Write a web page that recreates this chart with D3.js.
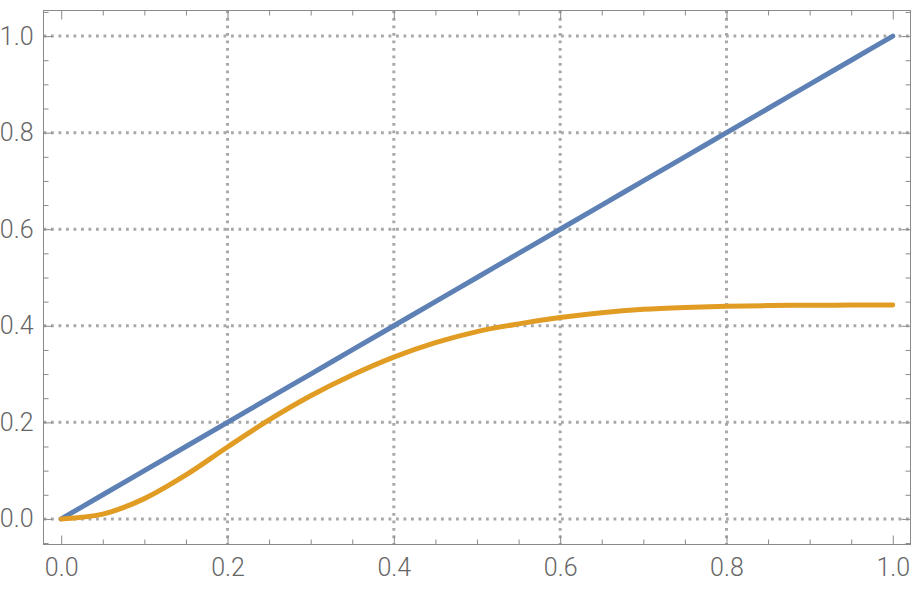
<!DOCTYPE html>
<html lang="en">
<head>
  <meta charset="UTF-8">
  <title>Plot</title>
  <script src="https://d3js.org/d3.v7.min.js"></script>
  <style>
    body { margin: 0; background: #fff; }
    svg { display: block; }
    .tick text { font-family: Roboto, sans-serif; font-size: 25px; fill: #666; font-weight: 300; }
    .axis path { display: none; }
    .axis line { stroke: #8a8a8a; stroke-width: 1; }
    .grid line { stroke: #a8a8a8; stroke-width: 3; stroke-dasharray: 2.8,4.7; }
  </style>
</head>
<body>
  <svg id="chart" width="923" height="589"></svg>

  <script>
    // data
    const xValues = [0, 0.05, 0.1, 0.15, 0.2, 0.25, 0.3, 0.35, 0.4, 0.45, 0.5,
                     0.55, 0.6, 0.65, 0.7, 0.75, 0.8, 0.85, 0.9, 0.95, 1.0];
    const blueValues = [0, 0.05, 0.1, 0.15, 0.2, 0.25, 0.3, 0.35, 0.4, 0.45, 0.5,
                        0.55, 0.6, 0.65, 0.7, 0.75, 0.8, 0.85, 0.9, 0.95, 1.0];
    const orangeValues = [0, 0.010, 0.042, 0.091, 0.149, 0.205, 0.255, 0.298, 0.335, 0.365, 0.388,
                          0.404, 0.417, 0.427, 0.434, 0.438, 0.4405, 0.4418, 0.4425, 0.4429, 0.4431];
    const majorTicks = [0, 0.2, 0.4, 0.6, 0.8, 1.0];
    const minorTicks = d3.range(-0.05, 1.06, 0.05).map(v => +v.toFixed(2));
    const xGrid = [0.2, 0.4, 0.6, 0.8];
    const yGrid = [0, 0.2, 0.4, 0.6, 0.8, 1.0];

    const frameL = 43.5, frameR = 910.5, frameT = 10.5, frameB = 544.5;

    const svg = d3.select("#chart");
    const x = d3.scaleLinear().domain([-0.0213, 1.0213]).range([frameL, frameR]);
    const y = d3.scaleLinear().domain([-0.053, 1.053]).range([frameB, frameT]);

    // grid
    svg.append("g").attr("class", "grid")
      .selectAll("line").data(xGrid).enter().append("line")
      .attr("x1", d => x(d)).attr("x2", d => x(d))
      .attr("y1", frameT).attr("y2", frameB);
    svg.append("g").attr("class", "grid")
      .selectAll("line").data(yGrid).enter().append("line")
      .attr("x1", frameL).attr("x2", frameR)
      .attr("y1", d => y(d)).attr("y2", d => y(d));

    // frame
    svg.append("rect")
      .attr("x", frameL).attr("y", frameT)
      .attr("width", frameR - frameL).attr("height", frameB - frameT)
      .attr("fill", "none").attr("stroke", "#8a8a8a").attr("stroke-width", 1);

    const xMinor = minorTicks.filter(v => v >= 0 && v <= 1 && !majorTicks.includes(v));
    const yMinor = minorTicks.filter(v => !majorTicks.includes(v));
    const fmt = d3.format(".1f");

    // bottom / top
    svg.append("g").attr("class", "axis").attr("transform", `translate(0,${frameB})`)
      .call(d3.axisBottom(x).tickValues(majorTicks).tickFormat(fmt).tickSize(-9).tickPadding(14));
    svg.append("g").attr("class", "axis").attr("transform", `translate(0,${frameB})`)
      .call(d3.axisBottom(x).tickValues(xMinor).tickFormat("").tickSize(-5));
    svg.append("g").attr("class", "axis").attr("transform", `translate(0,${frameT})`)
      .call(d3.axisTop(x).tickValues(majorTicks).tickFormat("").tickSize(-9));
    svg.append("g").attr("class", "axis").attr("transform", `translate(0,${frameT})`)
      .call(d3.axisTop(x).tickValues(xMinor).tickFormat("").tickSize(-5));

    // left / right
    svg.append("g").attr("class", "axis").attr("transform", `translate(${frameL},0)`)
      .call(d3.axisLeft(y).tickValues(majorTicks).tickFormat(fmt).tickSize(-9).tickPadding(10));
    svg.append("g").attr("class", "axis").attr("transform", `translate(${frameL},0)`)
      .call(d3.axisLeft(y).tickValues(yMinor).tickFormat("").tickSize(-5));
    svg.append("g").attr("class", "axis").attr("transform", `translate(${frameR},0)`)
      .call(d3.axisRight(y).tickValues(majorTicks).tickFormat("").tickSize(-9));
    svg.append("g").attr("class", "axis").attr("transform", `translate(${frameR},0)`)
      .call(d3.axisRight(y).tickValues(yMinor).tickFormat("").tickSize(-5));

    // curves
    const line = d3.line()
      .x(d => x(d[0])).y(d => y(d[1]))
      .curve(d3.curveMonotoneX);

    svg.append("path")
      .datum(d3.zip(xValues, blueValues))
      .attr("d", line)
      .attr("fill", "none").attr("stroke", "#5e81b5")
      .attr("stroke-width", 5).attr("stroke-linecap", "round");

    svg.append("path")
      .datum(d3.zip(xValues, orangeValues))
      .attr("d", line)
      .attr("fill", "none").attr("stroke", "#e19c24")
      .attr("stroke-width", 5).attr("stroke-linecap", "round");
  </script>
</body>
</html>
